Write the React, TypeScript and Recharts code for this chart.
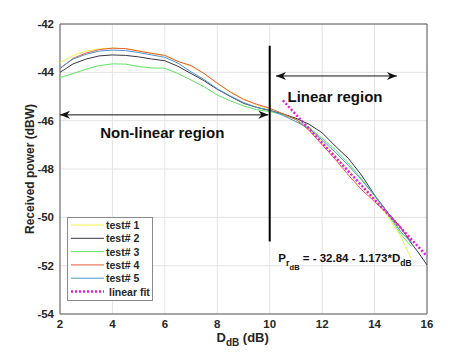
import React from "react";
import {
  CartesianGrid,
  Legend,
  Line,
  LineChart,
  ReferenceArea,
  ReferenceDot,
  ReferenceLine,
  XAxis,
  YAxis,
} from "recharts";

// distance grid (dB) shared by the five measured runs
const DIST = [2, 2.5, 3, 3.5, 4, 4.5, 5, 5.5, 6, 6.5, 7, 7.5, 8, 8.5, 9, 9.5, 10, 10.5, 11, 11.5, 12, 12.5, 13, 13.5, 14, 14.5, 15, 15.4, 15.7, 16];

const TEST1 = [-43.6, -43.3, -43.12, -43.03, -43.0, -43.02, -43.1, -43.2, -43.3, -43.55, -43.75, -44.05, -44.45, -44.8, -45.1, -45.35, -45.52, -45.72, -45.95, -46.35, -46.9, -47.45, -48.05, -48.65, -49.25, -49.95, -50.8, -51.7, null, null];
const TEST2 = [-44.0, -43.65, -43.45, -43.32, -43.28, -43.3, -43.36, -43.45, -43.52, -43.75, -44.05, -44.35, -44.7, -45.0, -45.28, -45.45, -45.58, -45.72, -45.9, -46.15, -46.5, -47.05, -47.56, -48.25, -49.08, -49.8, -50.42, -51.07, -51.5, -51.97];
const TEST3 = [-44.22, -44.05, -43.87, -43.72, -43.65, -43.66, -43.76, -43.82, -43.83, -44.05, -44.32, -44.6, -44.94, -45.18, -45.39, -45.55, -45.62, -45.75, -45.95, -46.28, -46.73, -47.2, -47.76, -48.4, -49.1, -49.85, -50.7, -51.2, null, null];
const TEST4 = [-43.85, -43.42, -43.2, -43.06, -43.0, -43.02, -43.12, -43.22, -43.3, -43.55, -43.72, -44.05, -44.45, -44.82, -45.12, -45.32, -45.48, -45.72, -45.95, -46.4, -47.0, -47.6, -48.25, -48.85, -49.35, -49.85, -50.45, -51.0, null, null];
const TEST5 = [-43.82, -43.45, -43.25, -43.12, -43.08, -43.1, -43.18, -43.28, -43.38, -43.62, -43.98, -44.3, -44.68, -44.98, -45.25, -45.45, -45.56, -45.78, -46.04, -46.32, -46.8, -47.3, -47.85, -48.45, -49.1, -49.8, -50.6, -51.05, null, null];

// linear fit endpoints
const FIT_X = [10.5, 16];
const FIT_Y = [-45.16, -51.61];

const X_TICKS = [2, 4, 6, 8, 10, 12, 14, 16];
const Y_TICKS = [-54, -52, -50, -48, -46, -44, -42];

const SERIES = [
  { key: "t1", name: "test# 1", values: TEST1, color: "#f2f04a" },
  { key: "t2", name: "test# 2", values: TEST2, color: "#363645" },
  { key: "t3", name: "test# 3", values: TEST3, color: "#5fe25f" },
  { key: "t4", name: "test# 4", values: TEST4, color: "#ee5a3c" },
  { key: "t5", name: "test# 5", values: TEST5, color: "#4c96cc" },
];
const FIT_COLOR = "#e21ae2";

const FONT = "'Liberation Sans', Arial, Helvetica, sans-serif";
const INK = "#262626";

const rows = DIST.map((d, i) => {
  const row: Record<string, number | null> = { d };
  for (const s of SERIES) row[s.key] = s.values[i];
  return row;
});
const fitRows = FIT_X.map((d, i) => ({ d, fit: FIT_Y[i] }));

function DoubleArrow(props: any) {
  const { x1, y1, x2, y2 } = props;
  if (x1 == null) return null;
  const head = (tx: number, dir: number) =>
    `M${tx},${y1} L${tx - dir * 10},${y1 - 4} L${tx - dir * 7},${y1} L${tx - dir * 10},${y1 + 4} Z`;
  return (
    <g>
      <line x1={x1} y1={y1} x2={x2} y2={y2} stroke="#111" strokeWidth={1} />
      <path d={head(x1, -1)} fill="#111" />
      <path d={head(x2, 1)} fill="#111" />
    </g>
  );
}

function RegionText(text: string) {
  return (props: any) => {
    const { cx, cy } = props;
    if (cx == null) return null;
    return (
      <text x={cx} y={cy} textAnchor="middle" dominantBaseline="central" fontFamily={FONT} fontWeight={700} fontSize={15} fill="#111">
        {text}
      </text>
    );
  };
}

function EquationText(props: any) {
  const { cx, cy } = props;
  if (cx == null) return null;
  return (
    <text x={cx} y={cy} fontFamily={FONT} fontWeight={700} fontSize={11.5} fill="#111">
      <tspan>P</tspan>
      <tspan fontSize={9} dy={4}>r</tspan>
      <tspan fontSize={7.5} dy={4}>dB</tspan>
      <tspan dy={-8}>{" = - 32.84 - 1.173*D"}</tspan>
      <tspan fontSize={8.5} dy={4}>dB</tspan>
    </text>
  );
}

function XTitle(props: any) {
  const { viewBox } = props;
  const cx = viewBox.x + viewBox.width / 2;
  return (
    <text x={cx - 27} y={viewBox.y + 28} fontFamily={FONT} fontSize={13} fontWeight={600} fill={INK}>
      <tspan>D</tspan>
      <tspan fontSize={10} dy={4}>dB</tspan>
      <tspan dy={-4}> (dB)</tspan>
    </text>
  );
}

function YTitle(props: any) {
  const { viewBox } = props;
  const cy = viewBox.y + viewBox.height / 2;
  const x = 30;
  return (
    <text
      x={x}
      y={cy}
      transform={`rotate(-90, ${x}, ${cy})`}
      textAnchor="middle"
      dominantBaseline="central"
      fontFamily={FONT}
      fontSize={12}
      fontWeight={600}
      fill={INK}
    >
      Received power (dBW)
    </text>
  );
}

function LegendBox() {
  const entries = [...SERIES.map((s) => ({ name: s.name, color: s.color, fit: false })), { name: "linear fit", color: FIT_COLOR, fit: true }];
  return (
    <div style={{ width: 86, height: 84, border: "1px solid #8a8a8a", background: "#fff", boxSizing: "border-box" }}>
      <svg width={84} height={82}>
        {entries.map((e, i) => {
          const y = 7 + i * 13.3;
          return (
            <g key={e.name}>
              <line
                x1={3}
                x2={36}
                y1={y}
                y2={y}
                stroke={e.color}
                strokeWidth={e.fit ? 2.5 : 1}
                strokeDasharray={e.fit ? "2 2" : undefined}
              />
              <text x={e.fit ? 41 : 38} y={y} dominantBaseline="central" fontFamily={FONT} fontWeight={700} fontSize={10.5} fill={INK}>
                {e.name}
              </text>
            </g>
          );
        })}
      </svg>
    </div>
  );
}

export default function App() {
  return (
    <div style={{ position: "absolute", left: 0, top: 0, background: "#fff" }}>
      <LineChart width={474} height={355} data={rows} margin={{ top: 24, right: 47, bottom: 16, left: 20 }}>
        <CartesianGrid stroke="#e4e4e4" strokeWidth={1} />
        <XAxis
          dataKey="d"
          type="number"
          domain={[2, 16]}
          ticks={X_TICKS}
          tick={{ fill: INK, fontSize: 11.5, fontWeight: 700, fontFamily: FONT }}
          tickLine={false}
          axisLine={false}
          tickMargin={0}
          height={25}
          label={{ content: XTitle }}
        />
        <YAxis
          type="number"
          domain={[-54, -42]}
          ticks={Y_TICKS}
          tick={{ fill: INK, fontSize: 11.5, fontWeight: 700, fontFamily: FONT }}
          tickLine={false}
          axisLine={false}
          tickMargin={0}
          width={40}
          label={{ content: YTitle }}
        />
        <ReferenceArea x1={2} x2={16} y1={-54} y2={-42} fill="none" stroke="#5a5a5a" strokeWidth={1} />
        {SERIES.map((s) => (
          <Line
            key={s.key}
            dataKey={s.key}
            name={s.name}
            stroke={s.color}
            strokeWidth={1}
            dot={false}
            activeDot={false}
            type="linear"
            isAnimationActive={false}
          />
        ))}
        <Line
          data={fitRows}
          dataKey="fit"
          name="linear fit"
          stroke={FIT_COLOR}
          strokeWidth={2.5}
          strokeDasharray="2 2"
          dot={false}
          activeDot={false}
          type="linear"
          isAnimationActive={false}
        />
        <ReferenceLine segment={[{ x: 10, y: -42.9 }, { x: 10, y: -51 }]} stroke="#000" strokeWidth={2} />
        <ReferenceLine segment={[{ x: 2, y: -45.76 }, { x: 9.95, y: -45.76 }]} shape={DoubleArrow} />
        <ReferenceLine segment={[{ x: 10.24, y: -44.15 }, { x: 14.85, y: -44.15 }]} shape={DoubleArrow} />
        <ReferenceDot x={5.9} y={-46.47} r={0} shape={RegionText("Non-linear region")} />
        <ReferenceDot x={12.49} y={-45.02} r={0} shape={RegionText("Linear region")} />
        <ReferenceDot x={10.33} y={-51.83} r={0} shape={EquationText} />
        <Legend
          layout="vertical"
          align="center"
          verticalAlign="middle"
          content={LegendBox}
          wrapperStyle={{ left: 67, top: 217, width: 86, height: 84 }}
        />
      </LineChart>
    </div>
  );
}
